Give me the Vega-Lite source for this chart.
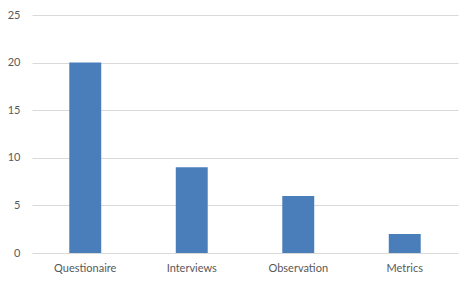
{
  "$schema": "https://vega.github.io/schema/vega-lite/v6.json",
  "width": 426,
  "height": 238,
  "autosize": {"type": "none"},
  "padding": {"left": 32, "top": 15, "right": 16, "bottom": 31},
  "background": "white",
  "data": {"values": [
    {"method": "Questionaire", "count": 20},
    {"method": "Interviews", "count": 9},
    {"method": "Observation", "count": 6},
    {"method": "Metrics", "count": 2}
  ]},
  "mark": {"type": "bar", "color": "#4a7ebb"},
  "encoding": {
    "x": {"field": "method", "type": "nominal", "sort": null, "title": null,
      "scale": {"paddingInner": 0.7, "paddingOuter": 0.35},
      "axis": {"labelAngle": 0, "domain": false, "ticks": false, "labelPadding": 9, "labelFont": "Lato", "labelFontSize": 11, "labelColor": "#595959"}},
    "y": {"field": "count", "type": "quantitative", "title": null,
      "scale": {"domain": [0, 25]},
      "axis": {"values": [0, 5, 10, 15, 20, 25], "domain": false, "ticks": false, "labelPadding": 12, "gridColor": "#d9d9d9", "labelFont": "Lato", "labelFontSize": 11, "labelColor": "#595959"}}
  },
  "config": {"view": {"stroke": null}}
}
